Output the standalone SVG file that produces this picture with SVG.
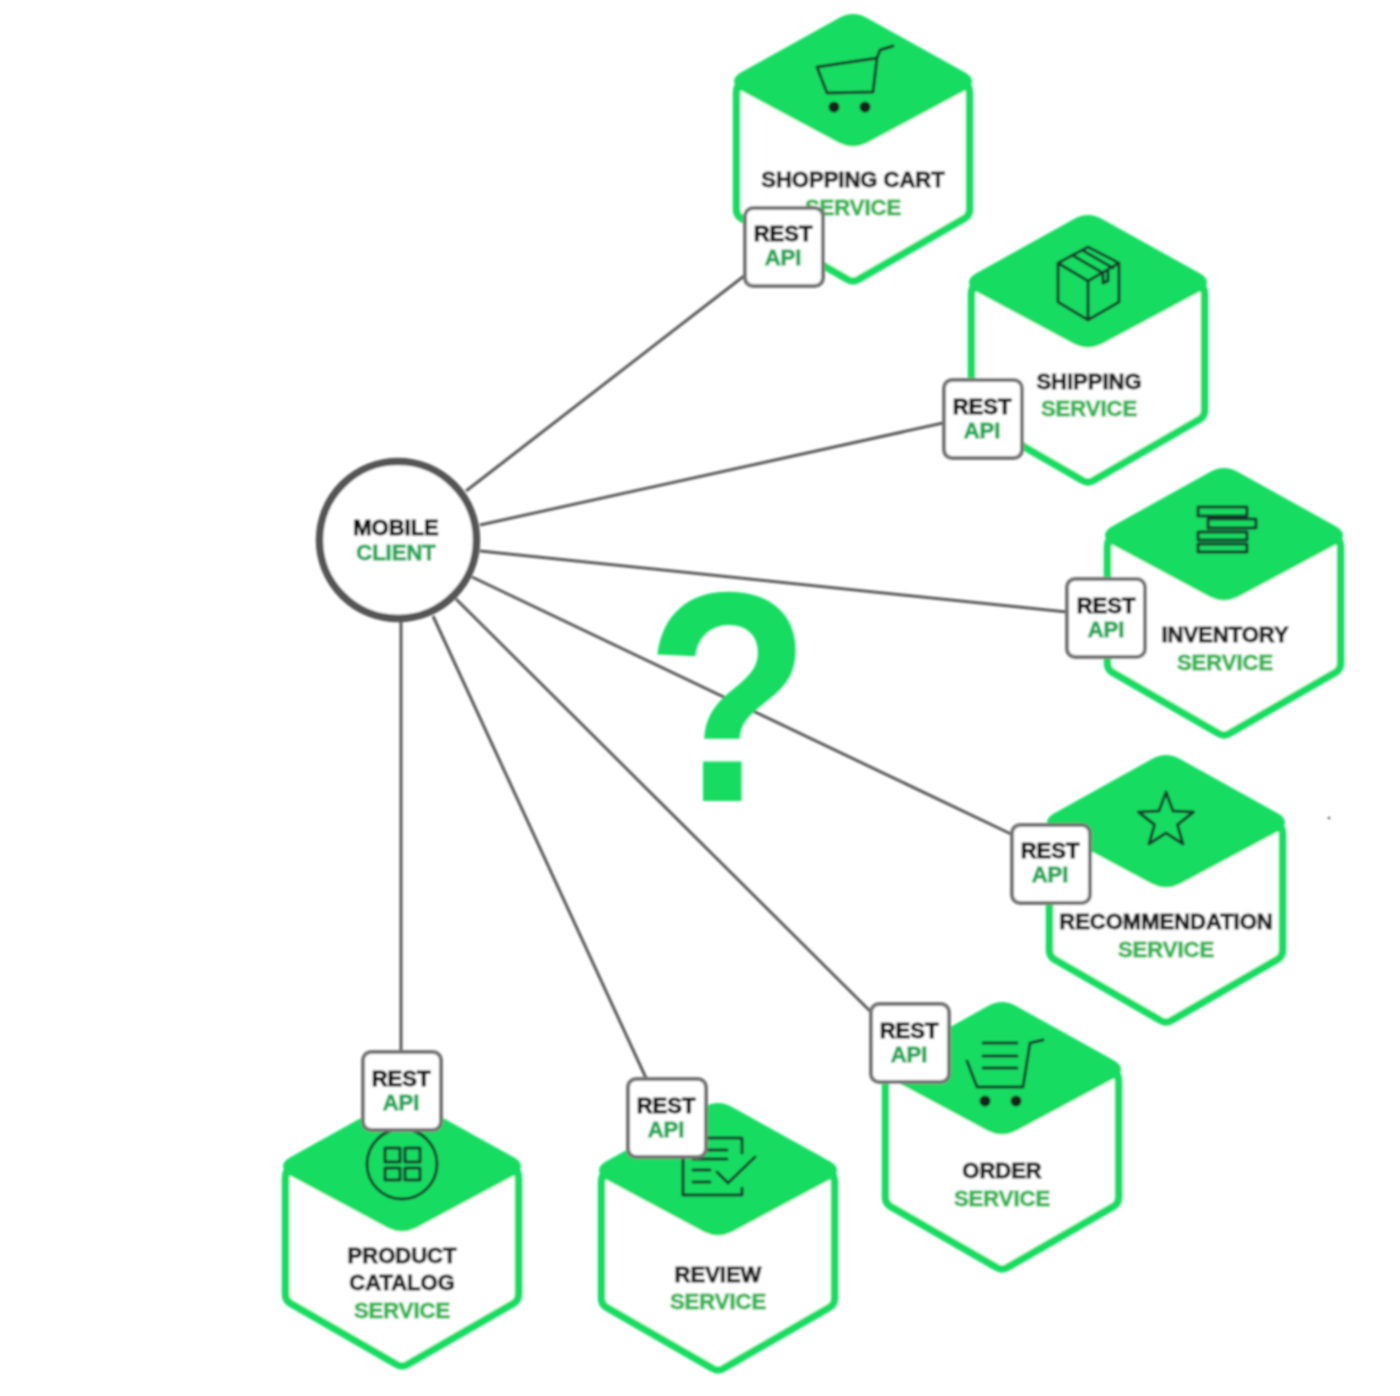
<svg xmlns="http://www.w3.org/2000/svg" width="1400" height="1396" viewBox="0 0 1400 1396">
<defs>
<style>
text{font-family:"Liberation Sans",Arial,sans-serif;font-weight:700;font-size:22px;text-anchor:middle;stroke-width:.9}
.t{fill:#222;stroke:#222}.s{fill:#35b654;stroke:#35b654}.r{fill:#111;stroke:#111}.a{fill:#1fa858;stroke:#1fa858}
.con{stroke:#5a5a5a;stroke-width:3;fill:none}
.box{fill:#fff;stroke:#757575;stroke-width:4}
.ic{fill:none;stroke:#17392a;stroke-width:3;stroke-linejoin:round;stroke-linecap:round}
.dot{fill:#14231c}
</style>
<g id="hex">
<path d="M-116.500,80V196Q-116.500,202-112,205L-6,266Q0,270 6,266L112,205Q116.500,202 116.500,196V80Q116.500,72 110,68L0,8L-110,68Q-116.500,72-116.500,80Z" fill="#fff" stroke="#12dd62" stroke-width="7.500" stroke-linejoin="round"/>
<path d="M-14,5Q0,-3 14,5L113,60Q125,68 113,77L14,130Q0,137-14,130L-113,77Q-125,68-113,60Z" fill="#12dd62"/>
</g>
<rect id="rest" class="box" x="0" y="0" width="78" height="78" rx="8"/>
<filter id="soft" filterUnits="userSpaceOnUse" x="0" y="0" width="1400" height="1396"><feGaussianBlur stdDeviation="0.8"/></filter>
</defs>
<rect width="1400" height="1396" fill="#fff"/>
<g filter="url(#soft)">
<g id="connectors">
<path class="con" d="M466,491L744,276M480,525L943,423M480,551L1067,612M472,577L1011,834M456,599L870,1011M433,616L646,1078M401,622V1051"/>
</g>
<text id="question" transform="translate(728,801) scale(.946,1.04)" style="font-size:288px;fill:#12dd62;stroke:none">?</text>
<g id="mobile-client">
<circle cx="398" cy="540" r="78.500" fill="#fff" stroke="#555" stroke-width="7.500"/>
<text class="r" x="396" y="535">MOBILE</text><text class="a" x="396" y="560">CLIENT</text>
</g>
<g id="shopping-cart">
<use href="#hex" x="853" y="13"/>
<path class="ic" d="M817,67L877,58L873,92L827,93ZM877,58L880,50L893,46"/>
<circle class="dot" cx="834" cy="107" r="5.500"/><circle class="dot" cx="865" cy="107" r="5.500"/>
<text class="t" x="853" y="187">SHOPPING CART</text><text class="s" x="853" y="215">SERVICE</text>
<use href="#rest" x="745" y="208"/>
<text class="r" x="783" y="241">REST</text><text class="a" x="783" y="265">API</text>
</g>
<g id="shipping">
<use href="#hex" x="1088" y="214"/>
<path class="ic" d="M1088,247L1119,263V302L1088,320L1058,302V263ZM1058,263L1088,281L1119,263M1088,281V320M1072,255L1103,273V283L1108,281V271M1082,250L1113,268"/>
<text class="t" x="1089" y="389">SHIPPING</text><text class="s" x="1089" y="416">SERVICE</text>
<use href="#rest" x="944" y="380"/>
<text class="r" x="982" y="414">REST</text><text class="a" x="982" y="438">API</text>
</g>
<g id="inventory">
<use href="#hex" x="1224" y="467"/>
<path class="ic" d="M1198,507H1247V516H1198ZM1208,519H1256V528H1208ZM1198,532H1247V540H1198ZM1198,544H1247V552H1198Z"/>
<text class="t" x="1225" y="642">INVENTORY</text><text class="s" x="1225" y="670">SERVICE</text>
<use href="#rest" x="1067" y="579"/>
<text class="r" x="1106" y="613">REST</text><text class="a" x="1106" y="637">API</text>
</g>
<g id="recommendation">
<use href="#hex" x="1166" y="754"/>
<path class="ic" d="M1166,792L1173,811L1193.600,812L1177.400,824.700L1183,844L1166,833L1149,844L1154.600,824.700L1138.400,812L1159,811Z"/>
<text class="t" x="1166" y="929">RECOMMENDATION</text><text class="s" x="1166" y="957">SERVICE</text>
<use href="#rest" x="1012" y="825"/>
<text class="r" x="1050" y="858">REST</text><text class="a" x="1050" y="882">API</text>
</g>
<g id="order">
<use href="#hex" x="1002" y="1001"/>
<path class="ic" d="M967,1061L977,1087H1023L1030,1043L1043,1040M983,1043H1017M983,1056H1017M983,1068H1017"/>
<circle class="dot" cx="985" cy="1101" r="5.500"/><circle class="dot" cx="1016" cy="1101" r="5.500"/>
<text class="t" x="1002" y="1178">ORDER</text><text class="s" x="1002" y="1206">SERVICE</text>
<use href="#rest" x="871" y="1004"/>
<text class="r" x="909" y="1038">REST</text><text class="a" x="909" y="1062">API</text>
</g>
<g id="review">
<use href="#hex" x="718" y="1102"/>
<path class="ic" d="M742,1153V1138H683V1195H742V1188M693,1150H727M693,1159H727M693,1170H710M693,1182H710M717,1172L728,1183L755,1157"/>
<text class="t" x="718" y="1282">REVIEW</text><text class="s" x="718" y="1309">SERVICE</text>
<use href="#rest" x="628" y="1079"/>
<text class="r" x="666" y="1113">REST</text><text class="a" x="666" y="1137">API</text>
</g>
<g id="product-catalog">
<use href="#hex" x="402" y="1098"/>
<circle class="ic" cx="402" cy="1164" r="35"/>
<path class="ic" d="M385,1148H400V1162H385ZM405,1148H420V1162H405ZM385,1168H400V1180H385ZM405,1168H420V1180H405Z"/>
<text class="t" x="402" y="1263">PRODUCT</text><text class="t" x="402" y="1290">CATALOG</text><text class="s" x="402" y="1318">SERVICE</text>
<use href="#rest" x="363" y="1052"/>
<text class="r" x="401" y="1086">REST</text><text class="a" x="401" y="1110">API</text>
</g>
<circle cx="1329" cy="818" r="1.300" fill="#555"/>
</g>
</svg>
